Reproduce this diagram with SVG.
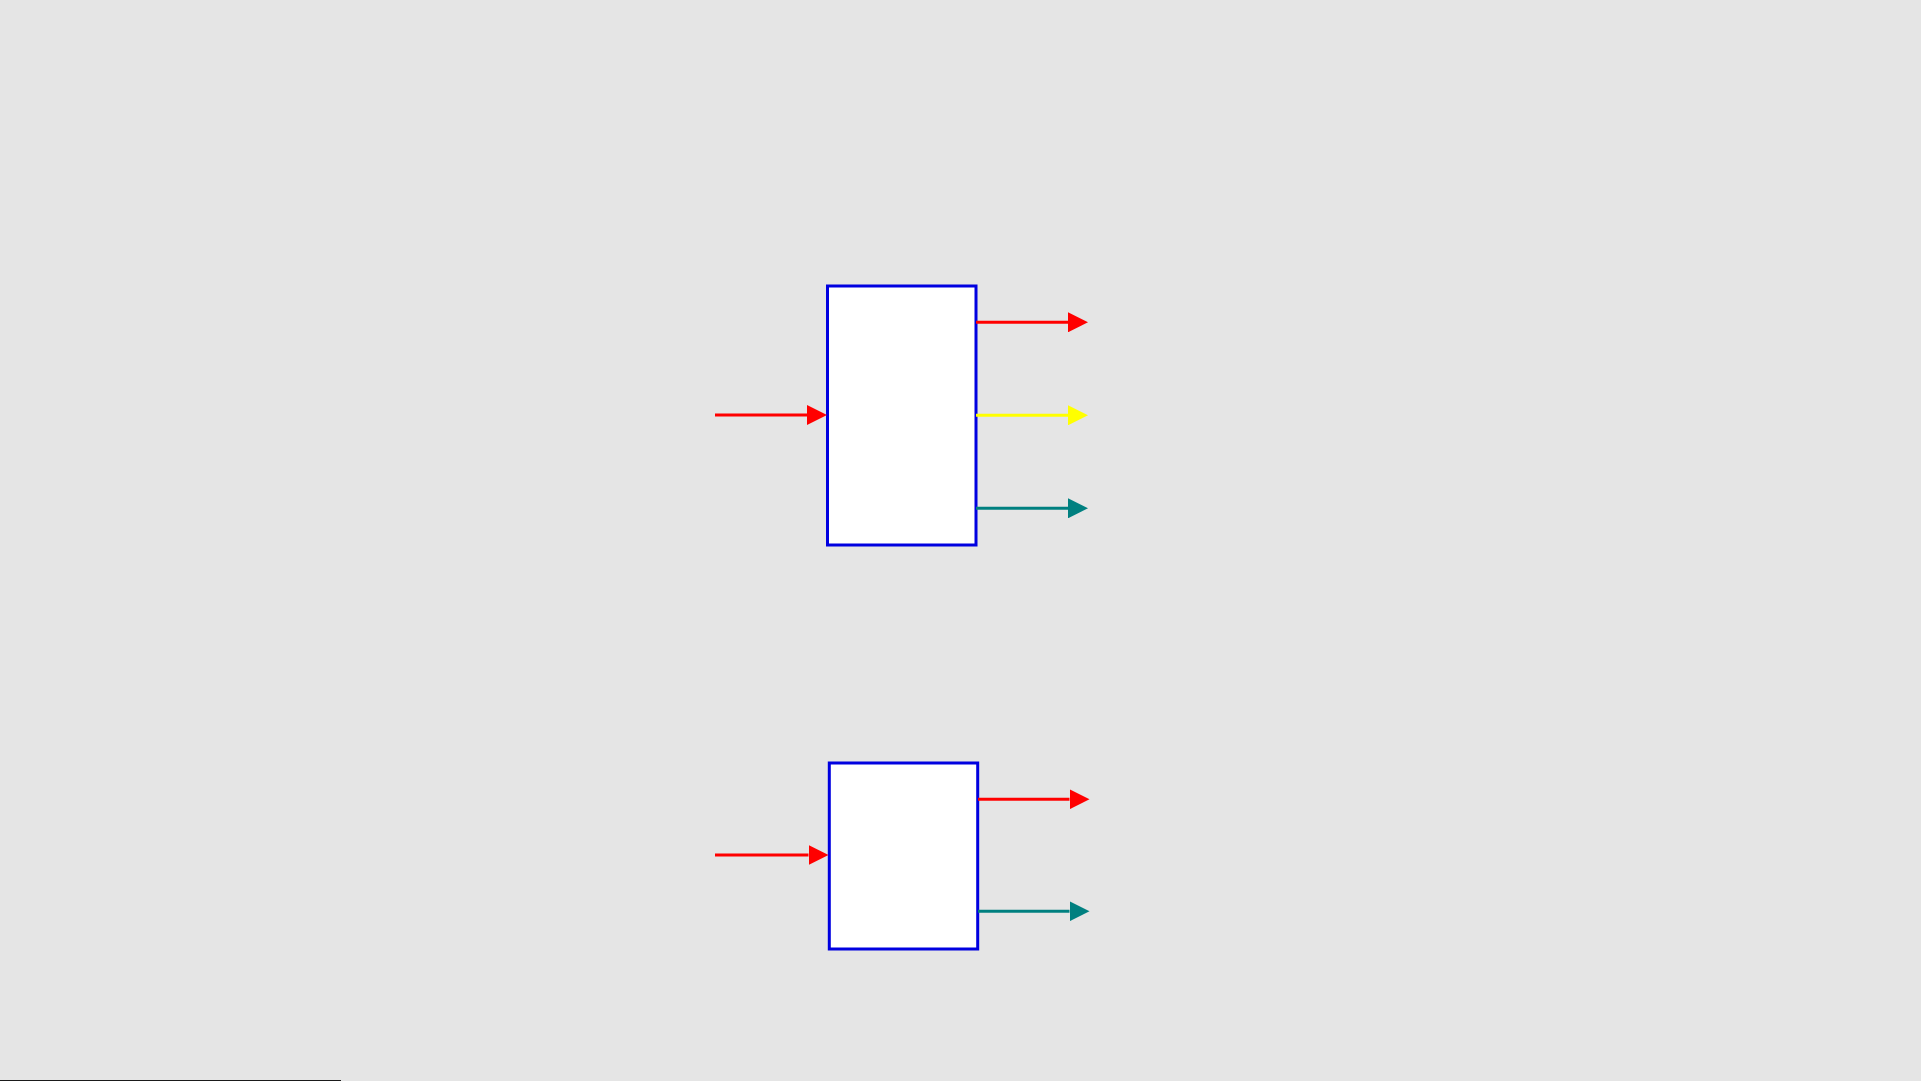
<svg xmlns="http://www.w3.org/2000/svg" width="1921" height="1081" viewBox="0 0 1921 1081">
<style>
.box{fill:#ffffff;stroke:#0000e0;stroke-width:3}
.red{stroke:#ff0000;stroke-width:3;fill:none}
.yel{stroke:#ffff00;stroke-width:3;fill:none}
.teal{stroke:#008080;stroke-width:3;fill:none}
</style>
<defs>
<marker id="ar" viewBox="0 0 20 20" refX="0" refY="10" markerUnits="userSpaceOnUse" markerWidth="20" markerHeight="20" orient="auto"><path d="M0,0 L20,10 L0,20 z" fill="#ff0000"/></marker>
<marker id="ay" viewBox="0 0 20 20" refX="0" refY="10" markerUnits="userSpaceOnUse" markerWidth="20" markerHeight="20" orient="auto"><path d="M0,0 L20,10 L0,20 z" fill="#ffff00"/></marker>
<marker id="at" viewBox="0 0 20 20" refX="0" refY="10" markerUnits="userSpaceOnUse" markerWidth="20" markerHeight="20" orient="auto"><path d="M0,0 L20,10 L0,20 z" fill="#008080"/></marker>
</defs>
<rect x="0" y="0" width="1921" height="1081" fill="#e5e5e5"/>
<g id="node1"><rect class="box" x="827.5" y="286" width="148.5" height="259"/></g>
<g id="node2"><rect class="box" x="829.3" y="763" width="148.4" height="186"/></g>
<g id="connectors">
<line class="red" x1="715" y1="415" x2="807" y2="415" marker-end="url(#ar)"/>
<line class="red" x1="976" y1="322.3" x2="1068" y2="322.3" marker-end="url(#ar)"/>
<line class="yel" x1="976" y1="415.3" x2="1068" y2="415.3" marker-end="url(#ay)"/>
<line class="teal" x1="976" y1="508.3" x2="1068" y2="508.3" marker-end="url(#at)"/>
<line class="red" x1="715" y1="855" x2="808.5" y2="855" marker-end="url(#ar)"/>
<line class="red" x1="978" y1="799.3" x2="1069.5" y2="799.3" marker-end="url(#ar)"/>
<line class="teal" x1="978" y1="911.3" x2="1069.5" y2="911.3" marker-end="url(#at)"/>
</g>
<line x1="0" y1="1080.5" x2="341" y2="1080.5" stroke="#1a1a1a" stroke-width="1"/>
</svg>
